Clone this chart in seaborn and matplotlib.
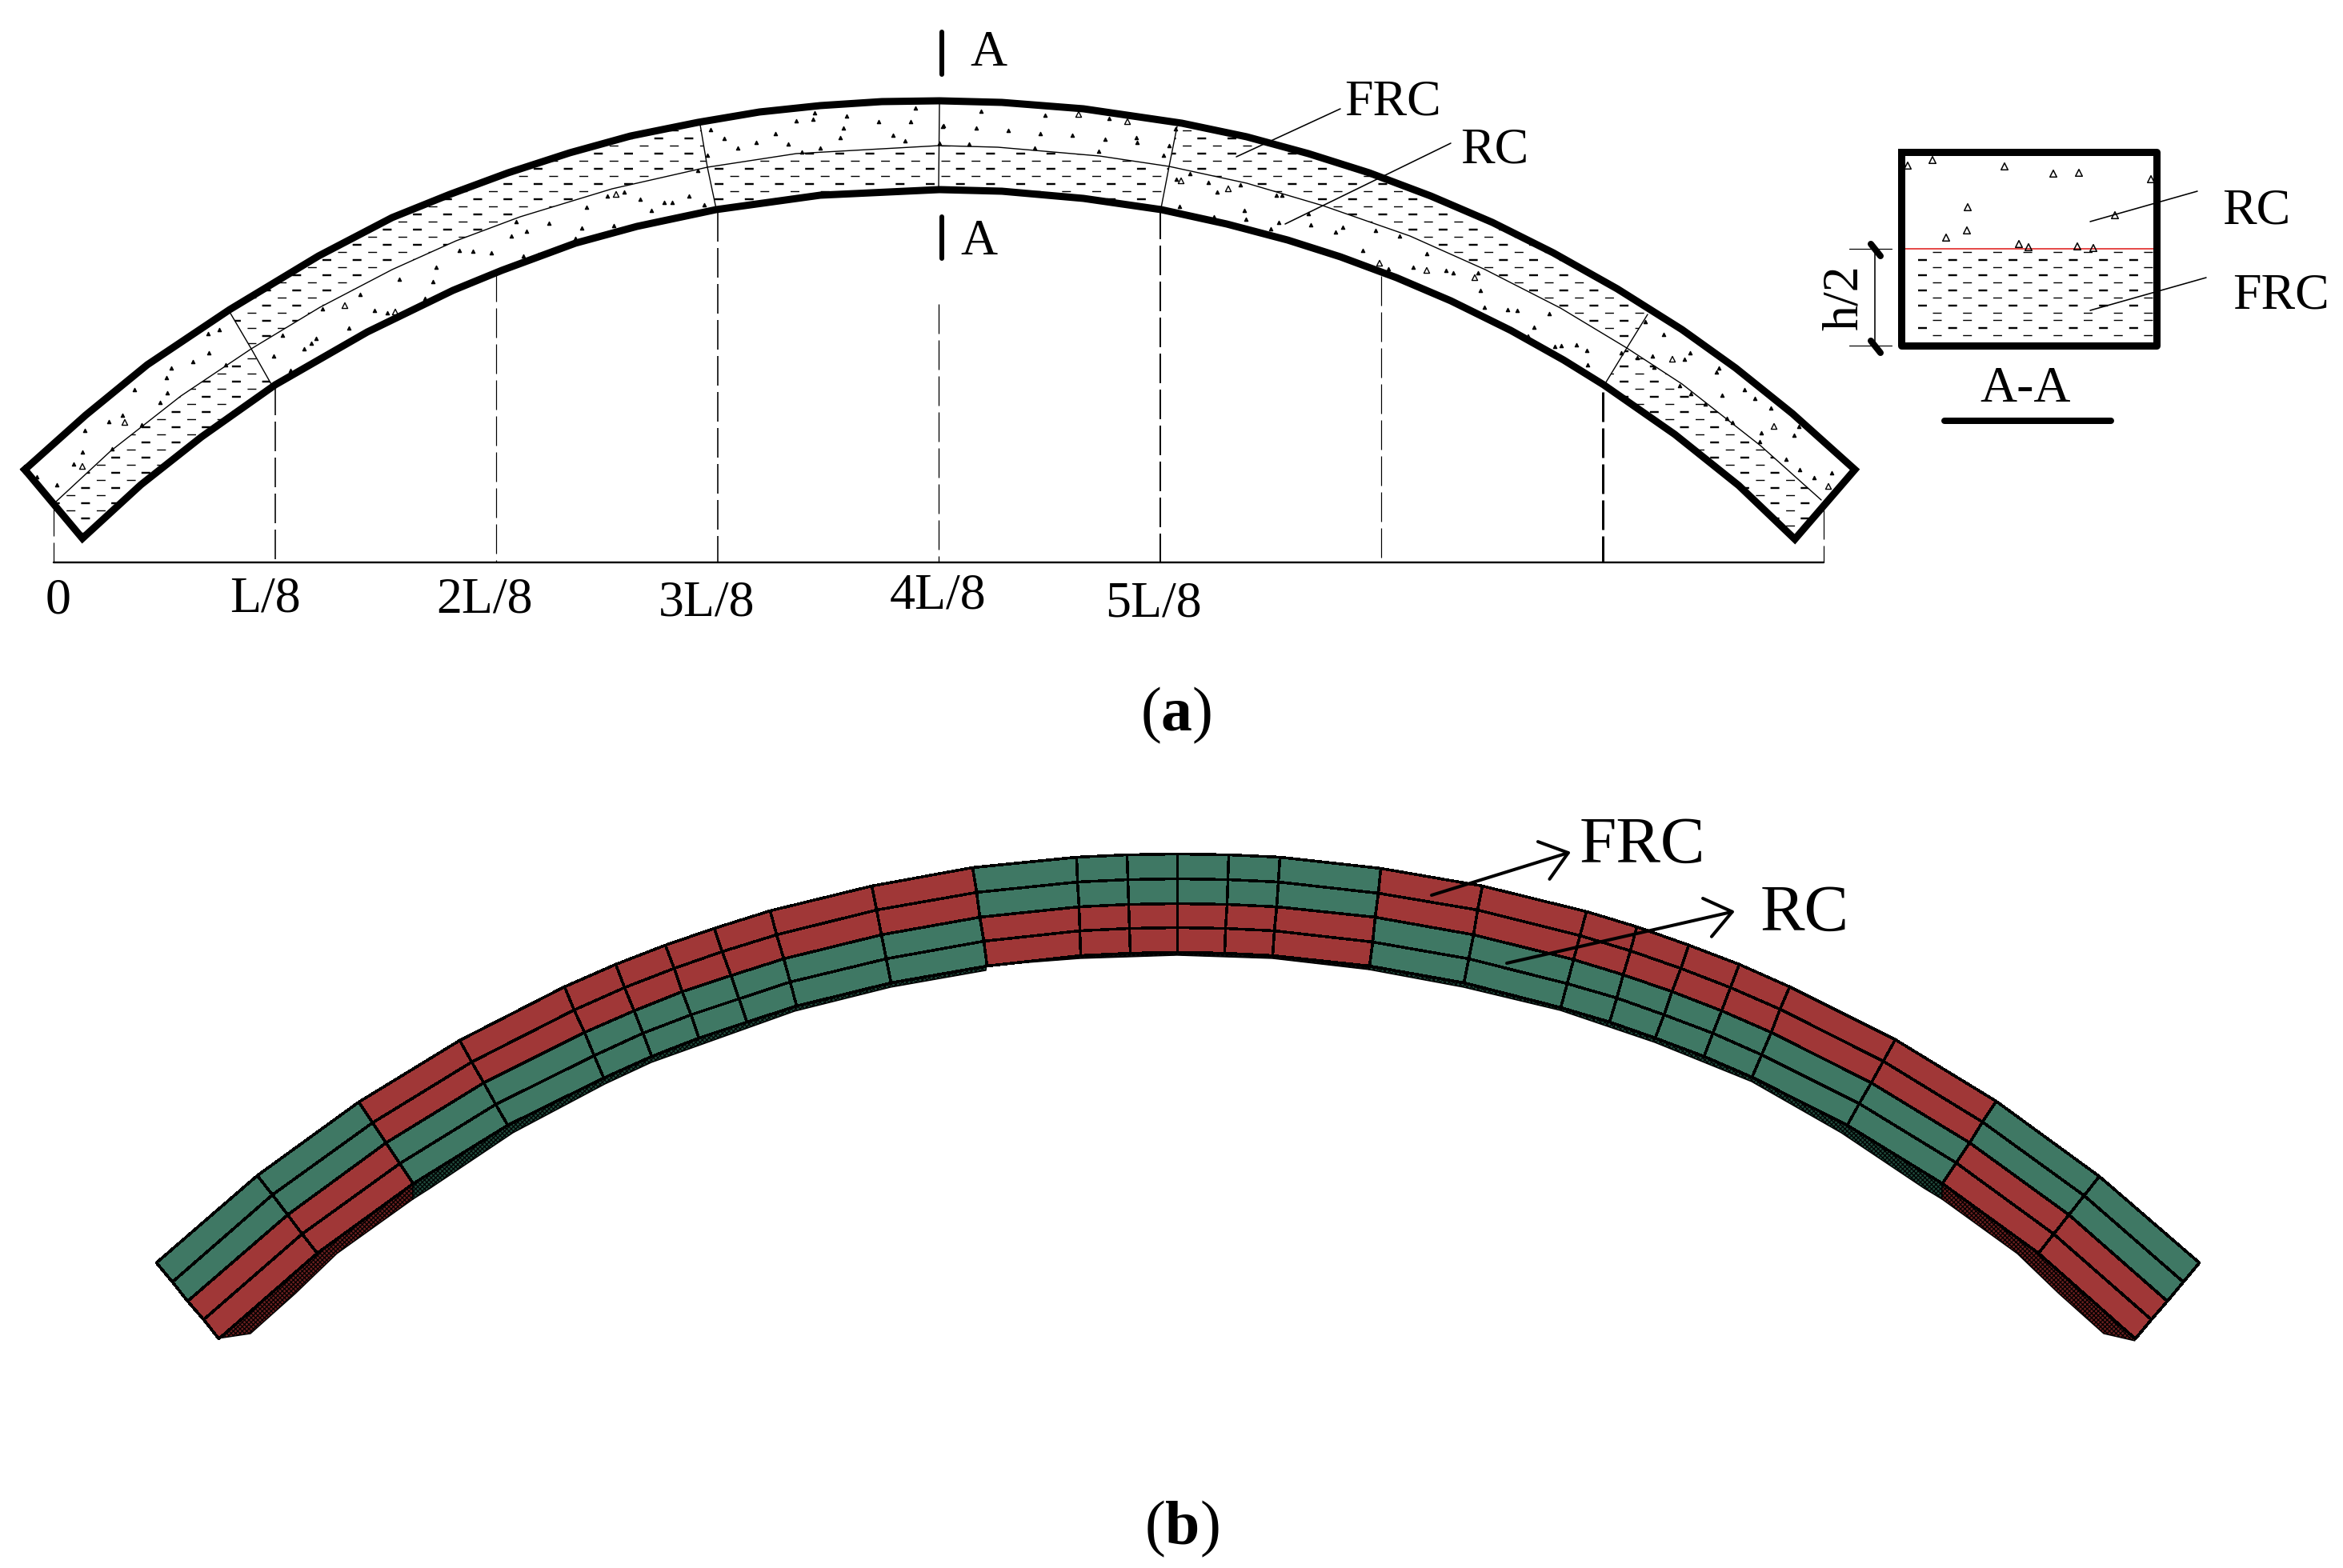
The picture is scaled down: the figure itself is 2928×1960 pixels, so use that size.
"""
Layered FRC / RC arch: (a) drawing with section A-A, (b) FE mesh.
All coordinates are read off the reference, in image pixels.
"""

import numpy as np
import matplotlib
matplotlib.use('Agg')
import matplotlib.pyplot as plt
from matplotlib.colors import ListedColormap
from matplotlib.patches import Polygon
import seaborn as sns

# ── Part (a): arch curves ─────────────────────────────────────────────────────
EXT_X = [31, 107, 184, 287, 398, 490, 562, 635, 712, 788, 872, 949, 1025, 1102, 1174,
         1252, 1354, 1477, 1558, 1635, 1711, 1788, 1865, 1941, 2021, 2102, 2169, 2240, 2318]
EXT_Y = [587, 519, 456, 387, 320, 272, 243, 216, 191, 170, 153, 140, 132, 127, 126,
         128, 136, 154, 171, 192, 216, 245, 278, 316, 361, 412, 460, 517, 587]
INT_X = [103, 176, 252, 344, 459, 566, 627, 719, 796, 895, 1025, 1174, 1252, 1354, 1451,
         1533, 1609, 1675, 1745, 1813, 1888, 1954, 2004, 2093, 2173, 2243]
INT_Y = [673, 606, 546, 481, 415, 363, 338, 304, 283, 262, 244, 237, 239, 248, 262,
         280, 300, 321, 347, 376, 413, 450, 481, 543, 607, 674]
MID_X = [69, 138, 226, 314, 400, 490, 570, 650, 765, 884, 995, 1174, 1247, 1374, 1461, 1558, 1653,
         1762, 1856, 1950, 2033, 2102, 2200, 2276]
MID_Y = [628, 564, 495, 436, 384, 337, 301, 271, 236, 209, 192, 182, 184, 195, 208, 229, 257,
         295, 337, 385, 435, 480, 557, 625]

# material joints across the rib: top, mid, bottom
JOINT_X = [[287, 314, 340], [875, 884, 895], [1471, 1461, 1451], [2059, 2033, 2005]]
JOINT_Y = [[390, 436, 482], [156, 209, 261], [158, 208, 260], [393, 435, 481]]
CROWN_X = [1174, 1173]
CROWN_Y = [130, 235]

# span ruler
RULER_X = [67, 344, 620, 897, 1173, 1450, 1726, 2003, 2279]
RULER_TOP = [633, 482, 340, 265, 380, 262, 345, 490, 637]
RULER_LW = [1.2, 1.6, 1.2, 1.6, 1.3, 2.0, 1.2, 3.0, 1.2]
RULER_Y = 703
TICK_TEXT = ['0', 'L/8', '2L/8', '3L/8', '4L/8', '5L/8']
TICK_TEXT_X = [73, 331, 605, 883, 1172, 1441]
TICK_TEXT_Y = [746, 744, 745, 749, 740, 750]

# aggregate specks in the RC half
SPECK_X = [46, 71, 103, 92, 106, 136, 153, 177, 140, 168, 200, 209, 208, 214, 241,
           261, 260, 274, 282, 342, 353, 380, 389, 395, 363, 436, 403, 450, 468, 484,
           531, 541, 499, 545, 574, 591, 614, 654, 673, 639, 658, 645, 686, 727, 767,
           719, 733, 759, 780, 800, 830, 840, 861, 814, 880, 872, 884, 888, 905, 922,
           945, 969, 985, 995, 1016, 1018, 1002, 1025, 1050, 1054, 1058, 1098, 1116, 1131,
           1138, 1144, 1178, 1226, 1179, 1220, 1260, 1306, 1386, 1300, 1340,
           1381, 1420, 1421, 1461, 1454, 1469, 1293, 1373, 1211, 1174, 1470, 1487,
           1510, 1521, 1550, 1595, 1602, 1474, 1555, 1517, 1557, 1598, 1588, 1635,
           1638, 1669, 1678, 1719, 1749, 1703, 1735, 1766, 1807, 1816,
           1847, 1783, 1850, 1855, 1884, 1896, 1936, 1917, 1943, 1951, 1970, 1983,
           1984, 2026, 2046, 2056, 2079, 2065, 2105, 2112, 2148, 2145, 2067, 2099,
           2113, 2152, 2180, 2193, 2213, 2131, 2158, 2165, 2248, 2201, 2242, 2199,
           2232, 2249, 2267, 2289]
SPECK_Y = [596, 606, 565, 580, 538, 527, 519, 531, 561, 487, 503, 491, 472, 460, 452,
           441, 417, 412, 456, 445, 419, 436, 429, 423, 463, 410, 386, 368, 388, 391,
           373, 352, 349, 334, 313, 314, 316, 320, 318, 295, 289, 277, 279, 285, 282,
           298, 259, 245, 240, 249, 253, 253, 245, 263, 256, 213, 194, 162, 173, 185,
           178, 167, 180, 151, 149, 141, 190, 185, 172, 160, 145, 152, 169, 176,
           152, 135, 158, 139, 157, 160, 163, 144, 148, 167, 169,
           174, 172, 178, 182, 194, 161, 185, 189, 180, 179, 224, 217,
           228, 240, 231, 244, 244, 258, 263, 271, 274, 278, 286, 267,
           281, 290, 284, 288, 295, 313, 336, 334, 338, 341,
           341, 317, 363, 384, 387, 388, 392, 409, 433, 432, 431, 438,
           456, 441, 447, 402, 418, 445, 449, 441, 460, 465, 459, 482,
           492, 494, 487, 498, 510, 505, 523, 528, 533, 541, 544, 552,
           574, 587, 597, 591]
# the few that read as larger open triangles
OPEN_SPECK_X = [103, 156, 431, 494, 770, 1348, 1409, 1476, 1535, 1724, 1783, 1843, 1910, 2090, 2217, 2285]
OPEN_SPECK_Y = [583, 528, 382, 390, 243, 143, 152, 226, 236, 329, 338, 347, 422, 449, 533, 608]

# ── Part (a): section A-A ─────────────────────────────────────────────────────
BOX_X = [2376, 2695, 2695, 2376, 2376]
BOX_Y = [190, 190, 432, 432, 190]
BOX_SPLIT_Y = 311
BOX_BOLD_ROWS = [325, 344, 363, 382, 410]
BOX_THIN_ROWS = [315, 334, 353, 372, 391, 400, 419]
BOX_SPECK_X = [2384, 2415, 2505, 2566, 2598, 2688, 2459, 2458, 2432, 2523, 2535, 2596, 2616, 2643]
BOX_SPECK_Y = [207, 200, 208, 217, 216, 224, 259, 288, 297, 305, 309, 308, 310, 269]

# ── Part (b): mesh stations along the arch ────────────────────────────────────
TOP_X = [195, 321, 448, 574, 705, 769, 831, 892, 962, 1089, 1215, 1345, 1408, 1471,
         1535, 1599, 1725, 1852, 1982, 2045, 2110, 2173, 2236, 2368, 2494, 2623, 2748]
TOP_Y = [1578, 1469, 1377, 1300, 1233, 1205, 1181, 1160, 1138, 1107, 1084, 1071, 1068, 1067,
         1068, 1071, 1085, 1107, 1139, 1158, 1181, 1205, 1233, 1299, 1376, 1470, 1578]
BOT_X = [273, 396, 516, 634, 754, 814, 873, 933, 995, 1113, 1233, 1350, 1412, 1471,
         1530, 1590, 1711, 1829, 1950, 2011, 2068, 2129, 2189, 2308, 2427, 2547, 2668]
BOT_Y = [1673, 1566, 1479, 1406, 1347, 1320, 1297, 1277, 1257, 1228, 1207, 1194, 1191, 1190,
         1191, 1194, 1207, 1228, 1259, 1277, 1297, 1320, 1346, 1406, 1479, 1566, 1673]
# 1 = red over green in that bay, 0 = green over red
RED_ON_TOP = [0, 0, 1, 1, 1, 1, 1, 1, 1, 1, 0, 0, 0, 0, 0, 0, 1, 1, 1, 1, 1, 1, 1, 1, 0, 0]

# underside of the arch, seen in perspective
UNDER_X = [313, 369, 421, 516, 538, 641, 756, 814, 993, 1113, 1232, 1350, 1471, 1590,
           1711, 1829, 1950, 2068, 2189, 2301, 2404, 2427, 2521, 2573, 2629, 2668]
UNDER_Y = [1667, 1617, 1567, 1499, 1485, 1416, 1355, 1328, 1264, 1234, 1213, 1198, 1194, 1198,
           1212, 1234, 1263, 1303, 1352, 1416, 1485, 1499, 1567, 1617, 1667, 1676]

C_RED = '#a03737'
C_GREEN = '#3f7864'
PT = 0.72  # points per output pixel at dpi 100

sns.set_theme(style='white')
plt.rcParams['font.family'] = ['Liberation Serif', 'DejaVu Serif']
plt.rcParams['mathtext.fontset'] = 'custom'
plt.rcParams['mathtext.bf'] = 'Liberation Serif:bold'
plt.rcParams['lines.scale_dashes'] = False
plt.rcParams['hatch.linewidth'] = 0.9

fig = plt.figure(figsize=(29.28, 19.6), dpi=100, facecolor='white')
ax = fig.add_axes([0, 0, 1, 1])


def stroke(xs, ys, px=1.0, color='black', **kw):
    sns.lineplot(x=xs, y=ys, ax=ax, sort=False, estimator=None, errorbar=None,
                 color=color, linewidth=px * PT, legend=False, **kw)


def label(x, y, s, size=46, **kw):
    # +5: va='center' sits a little high for these capitals
    ax.text(x, y + 5, s, fontsize=size, ha='center', va='center', color='black', **kw)


def band(x_up, y_up, x_lo, y_lo, start, end):
    """Polygon between two curves, closed by the end sections start and end."""
    (xa_up, ya_up, xa_lo, ya_lo), (xb_up, yb_up, xb_lo, yb_lo) = start, end
    up = [(x, y) for x, y in zip(x_up, y_up) if xa_up < x < xb_up]
    lo = [(x, y) for x, y in zip(x_lo, y_lo) if xa_lo < x < xb_lo]
    return [(xa_up, ya_up)] + up + [(xb_up, yb_up), (xb_lo, yb_lo)] + lo[::-1] + [(xa_lo, ya_lo)]


def dash_rows(rows, x0, x1, px, clip):
    lines = ax.hlines(rows, x0, x1, colors='black', linewidth=px * PT,
                      linestyles=[(0, (11 * PT, 26.7 * PT))], zorder=2)
    lines.set_clip_path(clip)


def frc_hatch(corners, bold_rows, thin_rows, x0, x1):
    clip = Polygon(corners, closed=True, fc='none', ec='none', transform=ax.transData)
    ax.add_patch(clip)
    dash_rows(bold_rows, x0, x1, 2.4, clip)
    dash_rows(thin_rows, x0 + 18.85, x1, 1.4, clip)


# ── (a) hatched FRC zones: hatch grid is a drawing texture ────────────────────
arch_bold = np.arange(135, 700, 19.0)
arch_thin = arch_bold + 9.5
j = [(jx[0], jy[0], jx[1], jy[1], jx[2], jy[2]) for jx, jy in zip(JOINT_X, JOINT_Y)]
upper = [(j[0][0], j[0][1], j[0][2], j[0][3]), (j[1][0], j[1][1], j[1][2], j[1][3])], \
        [(j[2][0], j[2][1], j[2][2], j[2][3]), (j[3][0], j[3][1], j[3][2], j[3][3])]
lower = [(MID_X[0], MID_Y[0], INT_X[0], INT_Y[0]), (j[0][2], j[0][3], j[0][4], j[0][5])], \
        [(j[1][2], j[1][3], j[1][4], j[1][5]), (j[2][2], j[2][3], j[2][4], j[2][5])], \
        [(j[3][2], j[3][3], j[3][4], j[3][5]), (MID_X[-1], MID_Y[-1], INT_X[-1], INT_Y[-1])]
for start, end in upper:
    frc_hatch(band(EXT_X, EXT_Y, MID_X, MID_Y, start, end), arch_bold, arch_thin, 26.1, 2320)
for start, end in lower:
    frc_hatch(band(MID_X, MID_Y, INT_X, INT_Y, start, end), arch_bold, arch_thin, 26.1, 2320)

sns.scatterplot(x=SPECK_X, y=SPECK_Y, ax=ax, marker='^', s=9, color='black',
                edgecolor='black', linewidth=1.0, legend=False, zorder=3)
sns.scatterplot(x=OPEN_SPECK_X, y=OPEN_SPECK_Y, ax=ax, marker='^', s=26, facecolor='none',
                edgecolor='black', linewidth=1.0, legend=False, zorder=3)
stroke(MID_X, MID_Y, 1.4, zorder=3)
for jx, jy in zip(JOINT_X, JOINT_Y):
    stroke(jx, jy, 1.4, zorder=3)
stroke(CROWN_X, CROWN_Y, 1.4, zorder=3)

arch_x = EXT_X + INT_X[::-1] + EXT_X[:1]
arch_y = EXT_Y + INT_Y[::-1] + EXT_Y[:1]
stroke(arch_x, arch_y, 9, zorder=4, solid_joinstyle='miter', solid_capstyle='projecting')

# section marks A
stroke([1177, 1177], [40, 93], 6, solid_capstyle='round')
stroke([1177, 1177], [271, 323], 6, solid_capstyle='round')
label(1235, 62, 'A')
label(1223, 298, 'A')

# span ruler
stroke([RULER_X[0], RULER_X[-1]], [RULER_Y, RULER_Y], 2.4)
for x, top, lw in zip(RULER_X, RULER_TOP, RULER_LW):
    stroke([x, x], [top, RULER_Y], lw, linestyle=(0, (37 * PT, 8 * PT)))
for x, y, s in zip(TICK_TEXT_X, TICK_TEXT_Y, TICK_TEXT):
    label(x, y, s)

# leaders on the arch
stroke([1675, 1545], [136, 196], 1.6, zorder=5)
stroke([1813, 1606], [179, 280], 1.6, zorder=5)
label(1740, 124, 'FRC')
label(1868, 184, 'RC')

# ── (a) section A-A ───────────────────────────────────────────────────────────
box_clip = [(BOX_X[0], BOX_SPLIT_Y), (BOX_X[1], BOX_SPLIT_Y), (BOX_X[1], BOX_Y[2]), (BOX_X[0], BOX_Y[2])]
frc_hatch(box_clip, BOX_BOLD_ROWS, BOX_THIN_ROWS, 2396.5, 2690)
stroke(BOX_X[:2], [BOX_SPLIT_Y, BOX_SPLIT_Y], 1.6, color='#e0201f', zorder=3)
sns.scatterplot(x=BOX_SPECK_X, y=BOX_SPECK_Y, ax=ax, marker='^', s=38, facecolor='none',
                edgecolor='black', linewidth=1.1, legend=False, zorder=3)
stroke(BOX_X, BOX_Y, 9, zorder=4, solid_joinstyle='round', solid_capstyle='projecting')

stroke([2612, 2746], [277, 239], 1.6, zorder=5)
stroke([2612, 2757], [388, 347], 1.6, zorder=5)
label(2820, 260, 'RC')
label(2851, 365, 'FRC')
label(2531, 482, 'A-A')
stroke([2430, 2638], [526, 526], 8, solid_capstyle='round')

# h/2 dimension
stroke([2343, 2343], [311, 432], 1.6)
stroke([2311, 2364], [311, 311], 1.2)
stroke([2311, 2364], [432, 432], 1.2)
stroke([2338, 2350], [305, 320], 8, solid_capstyle='round')
stroke([2338, 2350], [426, 441], 8, solid_capstyle='round')
label(2306, 367, 'h/2', rotation=90)

label(1470, 889, r'($\mathbf{a}$)', size=56)

# ── (b) mesh: four equal layers between top and bottom edge ───────────────────
top = np.array([TOP_X, TOP_Y], dtype=float)
bot = np.array([BOT_X, BOT_Y], dtype=float)
depth = np.array([0, 0.25, 0.5, 0.75, 1.0])[:, None]
mesh_x = top[0] + depth * (bot[0] - top[0])
mesh_y = top[1] + depth * (bot[1] - top[1])
red_top = np.array(RED_ON_TOP)
materials = np.vstack([red_top, red_top, 1 - red_top, 1 - red_top])

ax.pcolormesh(mesh_x, mesh_y, materials, shading='flat', vmin=0, vmax=1,
              cmap=ListedColormap([C_GREEN, C_RED]), edgecolors='black',
              linewidth=1.8, zorder=3)

# underside strip, coloured by the layer it belongs to
for i0, i1, face in [(0, 2, '#6a1f1f'), (2, 10, '#1f4a3c'), (10, 16, '#111111'),
                     (16, 24, '#1f4a3c'), (24, 26, '#6a1f1f')]:
    lo = [(x, y) for x, y in zip(UNDER_X, UNDER_Y) if BOT_X[i0] <= x <= BOT_X[i1]]
    poly = list(zip(BOT_X[i0:i1 + 1], BOT_Y[i0:i1 + 1])) + lo[::-1]
    ax.add_patch(Polygon(poly, closed=True, facecolor=face, edgecolor='black',
                         hatch='xxxxxx', linewidth=1.0, zorder=2))

arrow = dict(arrowstyle='->,head_length=0.55,head_width=0.42', mutation_scale=42,
             lw=2.9, color='black', shrinkA=0, shrinkB=0)
ax.annotate('', xy=(1963, 1065), xytext=(1789, 1119), arrowprops=arrow, zorder=5)
ax.annotate('', xy=(2168, 1139), xytext=(1883, 1204), arrowprops=arrow, zorder=5)
label(2052, 1053, 'FRC', size=60)
label(2255, 1138, 'RC', size=60)

label(1477, 1906, r'($\mathbf{b}$)', size=56)

ax.set_xlim(0, 2928)
ax.set_ylim(1960, 0)
ax.axis('off')

fig.savefig('out.png', dpi=100, facecolor='white')
plt.close(fig)
